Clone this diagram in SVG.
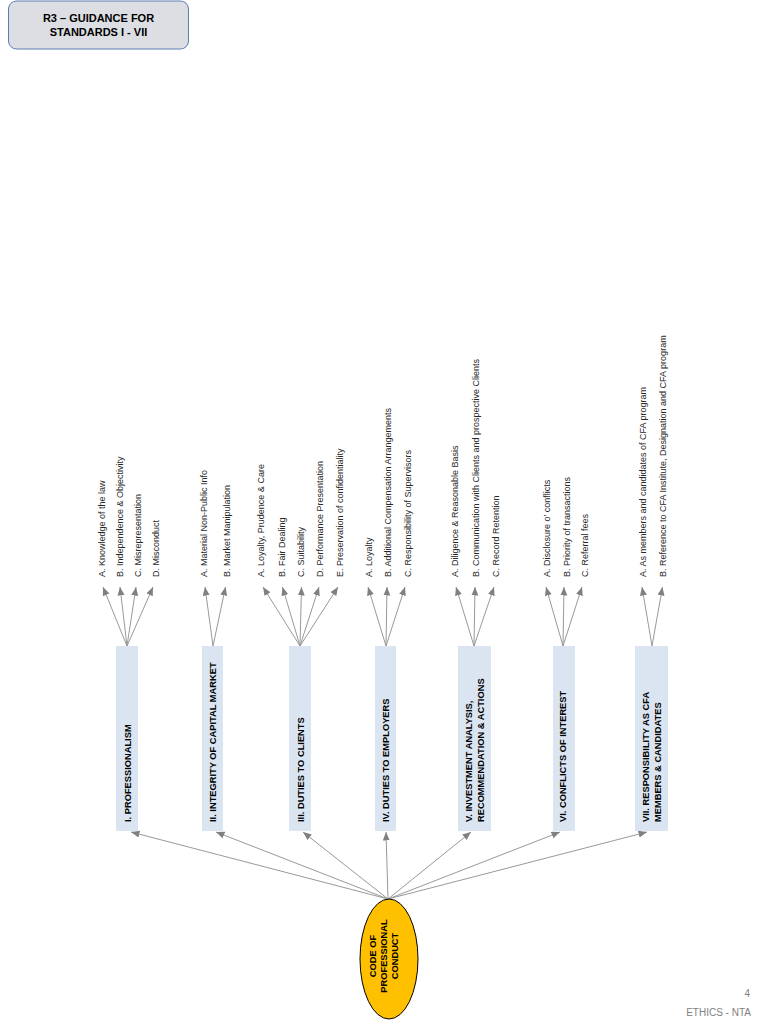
<svg xmlns="http://www.w3.org/2000/svg" width="768" height="1024" viewBox="0 0 768 1024">
<defs>
<marker id="ah" markerUnits="userSpaceOnUse" markerWidth="9" markerHeight="8" refX="8.5" refY="3.5" orient="auto">
<path d="M0,0 L8.5,3.5 L0,7 z" fill="#808080"/>
</marker>
<style>
.c{stroke:#999;stroke-width:1;fill:none;marker-end:url(#ah)}
.box{fill:#dbe5f1}
.bt{font-family:"Liberation Sans",Arial,sans-serif;font-weight:bold;font-size:9.3px;fill:#000}
.it{font-family:"Liberation Sans",Arial,sans-serif;font-size:9px;fill:#262626}
.ft{font-family:"Liberation Sans",Arial,sans-serif;font-size:10px;fill:#808080}
</style>
</defs>
<rect width="768" height="1024" fill="#fff"/>

<g id="title">
<rect x="8.5" y="1" width="180" height="48" rx="8" fill="#dcdee3" stroke="#5a7db3" stroke-width="1"/>
<text x="98.5" y="22" text-anchor="middle" font-family="Liberation Sans,Arial,sans-serif" font-weight="bold" font-size="11px">R3 – GUIDANCE FOR</text>
<text x="98.5" y="36" text-anchor="middle" font-family="Liberation Sans,Arial,sans-serif" font-weight="bold" font-size="11px">STANDARDS I - VII</text>
</g>

<g id="connectors">
<line class="c" x1="388" y1="899" x2="131" y2="832"/>
<line class="c" x1="388" y1="899" x2="216" y2="832"/>
<line class="c" x1="388" y1="899" x2="303" y2="832"/>
<line class="c" x1="388" y1="899" x2="386" y2="832"/>
<line class="c" x1="388" y1="899" x2="471" y2="832"/>
<line class="c" x1="388" y1="899" x2="560" y2="832"/>
<line class="c" x1="388" y1="899" x2="647" y2="832"/>

<line class="c" x1="127" y1="646" x2="103" y2="587"/>
<line class="c" x1="127" y1="646" x2="120" y2="587"/>
<line class="c" x1="127" y1="646" x2="136" y2="587"/>
<line class="c" x1="127" y1="646" x2="153" y2="587"/>

<line class="c" x1="213" y1="646" x2="205" y2="587"/>
<line class="c" x1="213" y1="646" x2="225.5" y2="587"/>

<line class="c" x1="300" y1="646" x2="263" y2="587"/>
<line class="c" x1="300" y1="646" x2="282.5" y2="587"/>
<line class="c" x1="300" y1="646" x2="301.5" y2="587"/>
<line class="c" x1="300" y1="646" x2="319" y2="587"/>
<line class="c" x1="300" y1="646" x2="338" y2="587"/>

<line class="c" x1="386" y1="646" x2="368" y2="587"/>
<line class="c" x1="386" y1="646" x2="387" y2="587"/>
<line class="c" x1="386" y1="646" x2="405" y2="587"/>

<line class="c" x1="474" y1="646" x2="456" y2="587"/>
<line class="c" x1="474" y1="646" x2="475" y2="587"/>
<line class="c" x1="474" y1="646" x2="494" y2="587"/>

<line class="c" x1="563" y1="646" x2="546" y2="587"/>
<line class="c" x1="563" y1="646" x2="564" y2="587"/>
<line class="c" x1="563" y1="646" x2="582" y2="587"/>

<line class="c" x1="652" y1="646" x2="642" y2="587"/>
<line class="c" x1="652" y1="646" x2="662.5" y2="587"/>
</g>

<g id="root">
<ellipse cx="389" cy="959" rx="29" ry="60" fill="#ffc000" stroke="#000" stroke-width="1"/>
<text class="bt" font-size="8.8px" text-anchor="middle" transform="translate(376,956) rotate(-90)">CODE OF</text>
<text class="bt" font-size="8.8px" text-anchor="middle" transform="translate(387.2,956) rotate(-90)">PROFESSIONAL</text>
<text class="bt" font-size="8.8px" text-anchor="middle" transform="translate(398.4,956) rotate(-90)">CONDUCT</text>
</g>

<g id="std1">
<rect class="box" x="116" y="646" width="22" height="185"/>
<text class="bt" transform="translate(131,822) rotate(-90)">I. PROFESSIONALISM</text>
</g>
<g id="std2">
<rect class="box" x="202" y="646" width="21" height="185"/>
<text class="bt" transform="translate(216,822) rotate(-90)">II. INTEGRITY OF CAPITAL MARKET</text>
</g>
<g id="std3">
<rect class="box" x="289" y="646" width="22" height="185"/>
<text class="bt" transform="translate(303.5,822) rotate(-90)">III. DUTIES TO CLIENTS</text>
</g>
<g id="std4">
<rect class="box" x="375" y="646" width="21" height="185"/>
<text class="bt" transform="translate(389,822) rotate(-90)">IV. DUTIES TO EMPLOYERS</text>
</g>
<g id="std5">
<rect class="box" x="458" y="646" width="33" height="185"/>
<text class="bt" transform="translate(471.5,822) rotate(-90)">V. INVESTMENT ANALYSIS,</text>
<text class="bt" transform="translate(483.5,822) rotate(-90)">RECOMMENDATION &amp; ACTIONS</text>
</g>
<g id="std6">
<rect class="box" x="553" y="646" width="22" height="185"/>
<text class="bt" transform="translate(566,822) rotate(-90)">VI. CONFLICTS OF INTEREST</text>
</g>
<g id="std7">
<rect class="box" x="635" y="646" width="33" height="185"/>
<text class="bt" transform="translate(649,822) rotate(-90)">VII. RESPONSIBILITY AS CFA</text>
<text class="bt" transform="translate(660.5,822) rotate(-90)">MEMBERS &amp; CANDIDATES</text>
</g>

<g id="items1">
<text class="it" transform="translate(104.5,577) rotate(-90)">A. Knowledge of the law</text>
<text class="it" transform="translate(122.5,577) rotate(-90)">B. Independence &amp; Objectivity</text>
<text class="it" transform="translate(140.5,577) rotate(-90)">C. Misrepresentation</text>
<text class="it" transform="translate(158.5,577) rotate(-90)">D. Misconduct</text>
</g>
<g id="items2">
<text class="it" transform="translate(206.5,577) rotate(-90)">A. Material Non-Public Info</text>
<text class="it" transform="translate(230,577) rotate(-90)">B. Market Manipulation</text>
</g>
<g id="items3">
<text class="it" transform="translate(264,577) rotate(-90)">A. Loyalty, Prudence &amp; Care</text>
<text class="it" transform="translate(284.5,577) rotate(-90)">B. Fair Dealing</text>
<text class="it" transform="translate(303.5,577) rotate(-90)">C. Suitability</text>
<text class="it" transform="translate(323,577) rotate(-90)">D. Performance Presentation</text>
<text class="it" transform="translate(343,577) rotate(-90)">E. Preservation of confidentiality</text>
</g>
<g id="items4">
<text class="it" transform="translate(372,577) rotate(-90)">A. Loyalty</text>
<text class="it" transform="translate(391,577) rotate(-90)">B. Additional Compensation Arrangements</text>
<text class="it" transform="translate(411,577) rotate(-90)">C. Responsibility of Supervisors</text>
</g>
<g id="items5">
<text class="it" transform="translate(458,577) rotate(-90)">A. Diligence &amp; Reasonable Basis</text>
<text class="it" transform="translate(479,577) rotate(-90)">B. Communication with Clients and prospective Clients</text>
<text class="it" transform="translate(499,577) rotate(-90)">C. Record Retention</text>
</g>
<g id="items6">
<text class="it" transform="translate(550,577) rotate(-90)">A. Disclosure o' conflicts</text>
<text class="it" transform="translate(569.5,577) rotate(-90)">B. Priority of transactions</text>
<text class="it" transform="translate(588,577) rotate(-90)">C. Referral fees</text>
</g>
<g id="items7">
<text class="it" transform="translate(646,577) rotate(-90)">A. As members and candidates of CFA program</text>
<text class="it" transform="translate(665.5,577) rotate(-90)">B. Reference to CFA Institute, Designation and CFA program</text>
</g>

<g id="footer">
<text class="ft" x="750" y="997" text-anchor="end" font-size="8px">4</text>
<text class="ft" x="751" y="1016" text-anchor="end">ETHICS - NTA</text>
</g>
</svg>
